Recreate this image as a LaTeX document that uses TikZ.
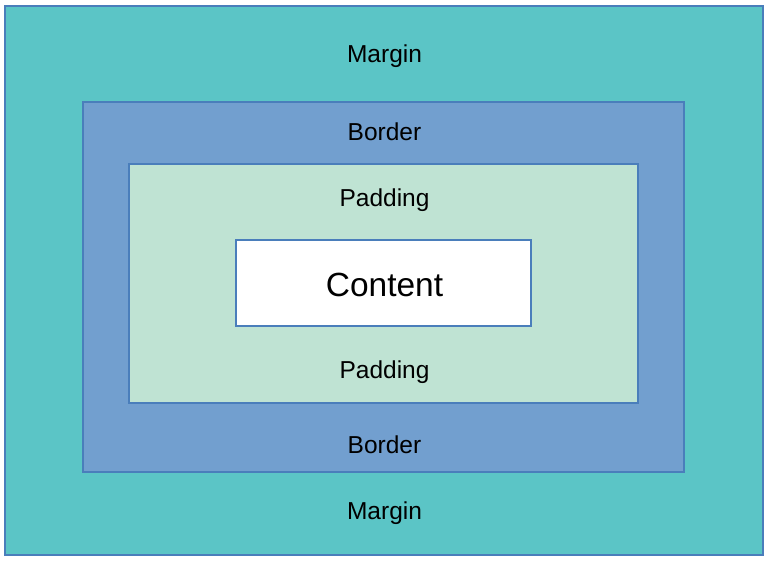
\documentclass[tikz,border=0pt]{standalone}
\usepackage{fontspec}
\setmainfont{Liberation Sans}
\definecolor{marginc}{HTML}{5BC5C6}
\definecolor{borderc}{HTML}{729FCF}
\definecolor{paddingc}{HTML}{BFE3D3}
\definecolor{edgec}{HTML}{4A7EBB}
\begin{document}
\begin{tikzpicture}[x=1pt,y=-1pt,
  box/.style={draw=edgec,line width=1.2pt},
  lbl/.style={font=\fontsize{24.5}{28}\selectfont,text=black,inner sep=0pt,anchor=base},
  big/.style={font=\fontsize{33.5}{38}\selectfont,text=black,inner sep=0pt,anchor=base}]
\useasboundingbox (0,0) rectangle (768,563);
\fill[white] (0,0) rectangle (768,563);
\draw[box,fill=marginc] (5,6) rectangle (763,555);
\draw[box,fill=borderc] (83,102) rectangle (684,472);
\draw[box,fill=paddingc] (129,164) rectangle (638,403);
\draw[box,fill=white] (236,240) rectangle (531,326);
\node[lbl] (m1) at (384.5,62) {Margin};
\node[lbl] (b1) at (384.5,140) {Border};
\node[lbl] (p1) at (384.5,206) {Padding};
\node[big] (c) at (384.5,296) {Content};
\node[lbl] (p2) at (384.5,378) {Padding};
\node[lbl] (b2) at (384.5,453) {Border};
\node[lbl] (m2) at (384.5,519) {Margin};
\end{tikzpicture}
\end{document}
